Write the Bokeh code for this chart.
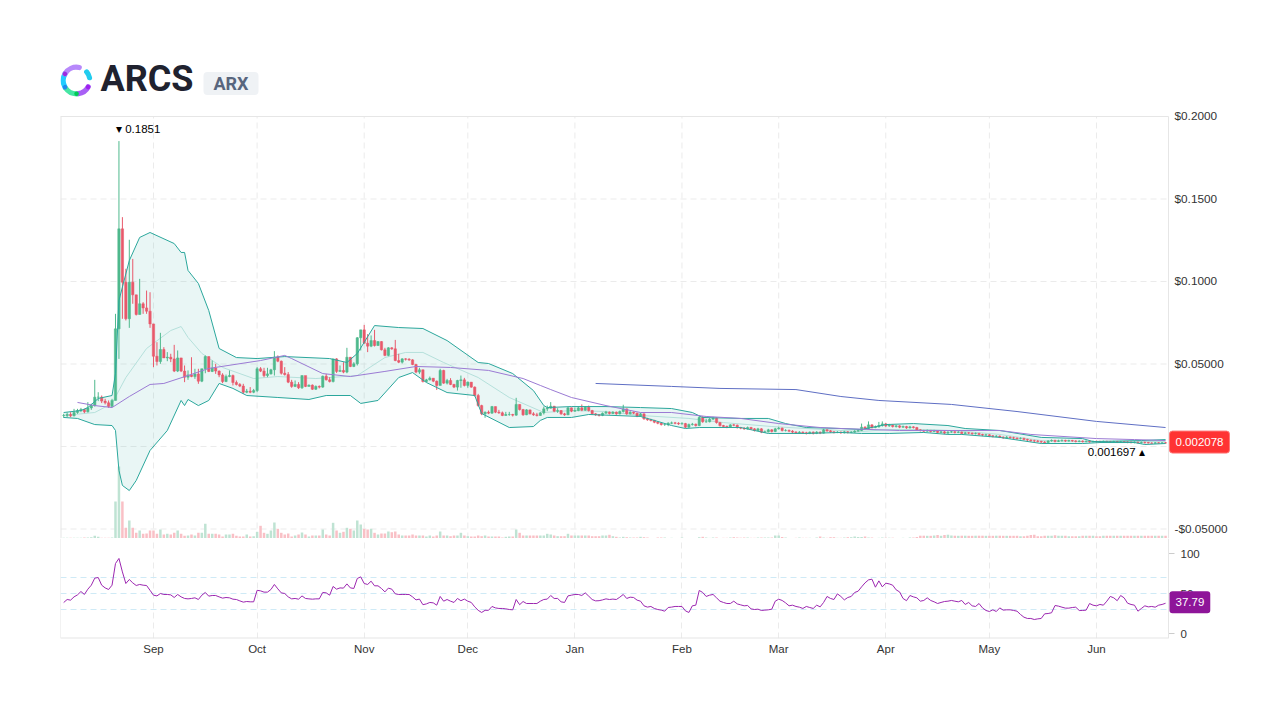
from bokeh.core.properties import value
from bokeh.embed import file_html
from bokeh.layouts import column
from bokeh.models import ColumnDataSource, FixedTicker, Label, Range1d, Span
from bokeh.plotting import figure
from bokeh.resources import INLINE

# ---------- data (price in USD, day 0 = first candle) ----------
month_days = [26, 56, 87, 117, 148, 179, 207, 238, 268, 299]
month_labels = ["Sep", "Oct", "Nov", "Dec", "Jan", "Feb", "Mar", "Apr", "May", "Jun"]

closes = [
 .0188,.0194,.0186,.0206,.0218,.0224,.0210,.0234,.0248,.0299,
 .0299,.0275,.0265,.0242,.0279,.0713,.1319,.0996,.0774,.0996,
 .0919,.0800,.0865,.0840,.0820,.0743,.0547,.0515,.0588,.0537,
 .0541,.0531,.0457,.0537,.0457,.0420,.0434,.0424,.0440,.0396,
 .0471,.0545,.0455,.0475,.0457,.0434,.0394,.0424,.0430,.0388,
 .0376,.0366,.0329,.0335,.0329,.0339,.0471,.0457,.0430,.0440,
 .0465,.0541,.0517,.0444,.0436,.0390,.0364,.0376,.0356,.0430,
 .0364,.0372,.0347,.0364,.0360,.0426,.0404,.0394,.0531,.0455,
 .0461,.0451,.0541,.0485,.0501,.0659,.0707,.0626,.0608,.0642,
 .0612,.0636,.0586,.0552,.0598,.0592,.0521,.0511,.0531,.0529,
 .0525,.0497,.0451,.0465,.0394,.0404,.0414,.0396,.0370,.0461,
 .0384,.0400,.0376,.0360,.0400,.0404,.0370,.0390,.0360,.0309,
 .0248,.0198,.0208,.0202,.0242,.0208,.0204,.0188,.0194,.0194,
 .0190,.0255,.0224,.0192,.0222,.0198,.0192,.0188,.0204,.0228,
 .0232,.0244,.0214,.0218,.0198,.0192,.0234,.0214,.0218,.0234,
 .0220,.0238,.0218,.0198,.0192,.0188,.0202,.0208,.0200,.0208,
 .0198,.0212,.0228,.0198,.0208,.0202,.0184,.0198,.0168,.0162,
 .0158,.0147,.0141,.0133,.0133,.0141,.0143,.0141,.0137,.0139,
 .0117,.0133,.0135,.0127,.0176,.0150,.0150,.0166,.0172,.0145,
 .0127,.0121,.0117,.0131,.0129,.0115,.0111,.0107,.0115,.0107,
 .0097,.0107,.0087,.0089,.0101,.0091,.0107,.0111,.0097,.0097,
 .0093,.0087,.0083,.0087,.0083,.0079,.0087,.0079,.0087,.0081,
 .0101,.0095,.0089,.0085,.0087,.0083,.0089,.0085,.0087,.0093,
 .0097,.0117,.0109,.0131,.0115,.0119,.0127,.0137,.0125,.0129,
 .0121,.0125,.0117,.0121,.0113,.0119,.0115,.0101,.0097,.0093,
 .0097,.0091,.0095,.0085,.0089,.0081,.0087,.0089,.0085,.0087,
 .0079,.0083,.0081,.0077,.0079,.0073,.0069,.0071,.0065,.0061,
 .0063,.0057,.0053,.0057,.0053,.0051,.0047,.0049,.0043,.0039,
 .0035,.0033,.0031,.0027,.0024,.0033,.0037,.0031,.0035,.0037,
 .0033,.0036,.0034,.0031,.0033,.0030,.0032,.0029,.0031,.0030,
 .0028,.0031,.0029,.0028,.0030,.0027,.0029,.0028,.0026,.0024,
 .0026,.0023,.0025,.0024,.0021,.0019,.0022,.0020,.0022,.002078]

highs = [
 .0198,.0206,.0208,.0228,.0228,.0234,.0228,.0269,.0259,.0404,
 .0329,.0309,.0289,.0279,.0289,.0804,.1851,.1390,.1077,.1253,
 .1137,.0919,.1016,.0875,.0945,.0935,.0743,.0632,.0689,.0602,
 .0572,.0562,.0616,.0582,.0537,.0491,.0461,.0541,.0471,.0471,
 .0471,.0552,.0545,.0521,.0501,.0461,.0444,.0436,.0461,.0436,
 .0400,.0384,.0380,.0349,.0360,.0349,.0481,.0481,.0477,.0477,
 .0471,.0578,.0552,.0521,.0481,.0451,.0404,.0400,.0390,.0430,
 .0412,.0376,.0376,.0370,.0370,.0430,.0440,.0420,.0531,.0535,
 .0491,.0511,.0598,.0541,.0511,.0663,.0707,.0737,.0681,.0673,
 .0707,.0638,.0638,.0598,.0602,.0602,.0646,.0562,.0535,.0535,
 .0535,.0529,.0501,.0477,.0465,.0410,.0424,.0414,.0400,.0471,
 .0465,.0410,.0414,.0380,.0404,.0430,.0416,.0394,.0390,.0364,
 .0319,.0253,.0212,.0218,.0246,.0242,.0222,.0212,.0210,.0210,
 .0198,.0295,.0255,.0228,.0226,.0222,.0208,.0204,.0208,.0242,
 .0248,.0269,.0246,.0232,.0220,.0204,.0240,.0236,.0236,.0240,
 .0255,.0244,.0248,.0222,.0202,.0196,.0206,.0216,.0212,.0214,
 .0212,.0218,.0253,.0230,.0214,.0212,.0206,.0204,.0200,.0174,
 .0168,.0162,.0152,.0145,.0139,.0147,.0151,.0149,.0147,.0147,
 .0143,.0139,.0143,.0139,.0188,.0184,.0168,.0172,.0180,.0176,
 .0149,.0131,.0127,.0135,.0137,.0133,.0119,.0117,.0121,.0119,
 .0111,.0113,.0111,.0097,.0107,.0105,.0113,.0119,.0115,.0105,
 .0103,.0099,.0093,.0093,.0091,.0089,.0091,.0091,.0093,.0091,
 .0107,.0105,.0099,.0093,.0093,.0091,.0095,.0093,.0093,.0099,
 .0105,.0139,.0123,.0152,.0135,.0127,.0149,.0152,.0143,.0137,
 .0133,.0131,.0129,.0127,.0125,.0125,.0123,.0119,.0105,.0101,
 .0103,.0101,.0101,.0099,.0095,.0093,.0093,.0095,.0093,.0093,
 .0091,.0089,.0087,.0085,.0085,.0083,.0077,.0077,.0075,.0069,
 .0069,.0067,.0061,.0063,.0061,.0059,.0055,.0055,.0053,.0047,
 .0043,.0041,.0039,.0035,.0033,.0039,.0043,.0041,.0041,.0043,
 .0041,.0041,.0040,.0038,.0038,.0037,.0037,.0036,.0036,.0036,
 .0035,.0036,.0035,.0034,.0035,.0034,.0034,.0033,.0032,.0031,
 .0031,.0030,.0030,.0030,.0028,.0026,.0027,.0026,.0027,.0027]

lows = [
 .0174,.0178,.0178,.0182,.0198,.0208,.0202,.0206,.0222,.0242,
 .0275,.0263,.0255,.0234,.0242,.0279,.0531,.0774,.0764,.0719,
 .0865,.0794,.0800,.0804,.0804,.0719,.0481,.0491,.0501,.0537,
 .0517,.0511,.0451,.0451,.0451,.0390,.0404,.0420,.0410,.0380,
 .0390,.0444,.0451,.0451,.0440,.0420,.0384,.0390,.0420,.0370,
 .0370,.0360,.0319,.0323,.0323,.0323,.0329,.0451,.0420,.0420,
 .0436,.0430,.0511,.0436,.0430,.0384,.0356,.0360,.0349,.0349,
 .0360,.0364,.0343,.0343,.0352,.0356,.0400,.0388,.0388,.0446,
 .0453,.0444,.0444,.0481,.0481,.0491,.0582,.0622,.0572,.0602,
 .0606,.0610,.0582,.0547,.0547,.0586,.0517,.0505,.0503,.0521,
 .0519,.0493,.0444,.0440,.0388,.0390,.0400,.0390,.0343,.0370,
 .0380,.0376,.0372,.0354,.0339,.0356,.0364,.0356,.0356,.0303,
 .0242,.0190,.0174,.0196,.0198,.0202,.0198,.0184,.0186,.0186,
 .0182,.0186,.0218,.0186,.0190,.0194,.0186,.0182,.0186,.0194,
 .0214,.0230,.0208,.0204,.0192,.0186,.0190,.0208,.0210,.0214,
 .0214,.0216,.0212,.0192,.0186,.0182,.0184,.0198,.0194,.0196,
 .0192,.0194,.0206,.0192,.0194,.0196,.0178,.0180,.0162,.0156,
 .0152,.0141,.0135,.0127,.0125,.0123,.0135,.0135,.0131,.0133,
 .0111,.0113,.0127,.0121,.0123,.0144,.0144,.0146,.0160,.0139,
 .0121,.0115,.0111,.0115,.0123,.0109,.0105,.0101,.0103,.0101,
 .0091,.0093,.0081,.0083,.0085,.0085,.0087,.0103,.0091,.0091,
 .0087,.0081,.0077,.0079,.0077,.0073,.0075,.0073,.0075,.0075,
 .0079,.0089,.0083,.0079,.0081,.0077,.0079,.0079,.0081,.0083,
 .0089,.0093,.0103,.0105,.0109,.0111,.0115,.0121,.0119,.0119,
 .0115,.0115,.0111,.0113,.0107,.0109,.0109,.0095,.0091,.0087,
 .0089,.0085,.0087,.0079,.0081,.0075,.0077,.0083,.0079,.0081,
 .0073,.0075,.0075,.0071,.0073,.0067,.0063,.0065,.0059,.0055,
 .0057,.0051,.0047,.0049,.0047,.0045,.0041,.0043,.0037,.0033,
 .0029,.0027,.0025,.0021,.0019,.0021,.0029,.0025,.0027,.0029,
 .0027,.0029,.0028,.0025,.0026,.0024,.0025,.0023,.0025,.0024,
 .0022,.0024,.0023,.0022,.0023,.0021,.0022,.0022,.0020,.0019,
 .0019,.0018,.0018,.001697,.0018,.0018,.0018,.0018,.0018,.0018]

# relative volume (arbitrary units)
volumes = [
 .7,.7,.8,.7,.7,.8,1,1,1.3,2.7,
 1.7,.8,.8,.8,1,37,72,37,10.7,18,
 10.7,5.7,8,4.7,5,8,8,4.7,9,4,
 4.7,4,5.7,8,4.7,2.7,3,4,3,5.7,
 5.7,14.7,4.7,4.7,4.7,4,2,4,4,4.7,
 2.7,2,2,4,2,2.3,6.7,12.7,5.7,4.7,
 8,16,9.7,5.7,4,5,2,3,4,6,
 4,2,3,3,3,9,4,3,15.7,8,
 5.7,6.7,10.7,9.7,8,18,14,9.7,9,9.7,
 5.7,4,5,5,7,6.3,7,4,3,3,
 3,4,3,3,3,2,3,2,3,7,
 3,3,2.3,3,3,5.7,3,2.3,2,2,
 3,2.3,3,2,2,2,2,1,1.7,2,
 2,9,5.7,3,3,3,3,3,3,3,
 4.7,4,3,2.3,2.3,2.3,4.7,3,3,3,
 3,3,3,2.3,2.3,2.3,3,3,3.7,2.3,
 1.7,1,1.7,1.3,1,1,1,1.7,1.3,1,
 .3,.3,1,1,1,.3,.7,.3,.3,1,
 .3,.2,.2,.2,1.3,1.7,1,.6,1,1,
 .4,.7,.7,1,1.3,1,.8,1,1,.7,
 .7,1,1,1,1,1,3,3,1.5,1,
 .5,.3,.7,1,.7,.7,.7,.5,1,2,
 1,.7,1.3,1.3,.7,.7,1,1.3,1.3,2,
 1.5,1.5,2,1,1,.5,.7,1,.8,.8,
 .8,.3,.3,.7,.3,1,1,1.5,2.8,2.8,
 2.7,2.7,3,3.5,2.7,3.5,3.8,3,2.8,2.7,
 2.8,2.8,2.7,2.7,2.8,2.8,2.8,2.7,2.7,2.7,
 2.8,2.8,2.7,2.7,2.7,2.7,2.7,2.3,2.3,2.8,
 3.5,3.8,2.3,2.3,2.7,2.8,2.8,3.2,2.8,2.7,
 2.7,2.3,2.3,2.3,2.3,2.7,2.8,2.7,2.7,2.3,
 2.3,2.7,2.7,2.7,2.7,2.7,2.7,2.7,2.7,2.7,
 2.8,2.7,2.7,2.8,2.7,2.7,2.7,2.7,2.8,2.8]

rsi = [
 38.7,42.5,41.7,45.8,48.3,52.5,48.8,55.4,60.4,69.2,
 70,60.4,57,55,60.4,87.5,93.8,77,62.5,67.5,
 63.3,60,61.3,60.4,60,54,47.9,47,50,48.8,
 48.8,48.3,45,48.8,45.8,43.8,43.3,43.8,44.6,42.5,
 47.9,51.3,46.7,47.5,47.5,45.8,44.2,45,44.6,42.9,
 42.5,40.8,39.2,40,39.6,39.6,54,53.3,51.7,51.7,
 55,61.3,55.8,50.8,50,45.8,43.3,43.8,42.9,47,
 43.8,43.3,42.9,43.3,43.3,51.3,50.8,47.9,58.8,55.4,
 57,56.7,62,57,56.3,68.8,70.8,62.5,61.3,65.4,
 59.6,59.6,56.3,52,56.7,55.4,49.6,48.8,48.8,48.8,
 48.8,45.8,42,43,36,37,38.8,38.3,35.4,46.3,
 40.4,42.5,40.4,38.8,43.8,41,43,40.4,38.8,33.3,
 29,26.3,29,29,33.8,32,31.3,31.3,30.8,30,
 29.6,42.5,36,40,37.5,37.5,37.5,37.5,40.4,42.5,
 43,47.5,43.8,43.8,39.6,38.8,47,47.9,48.8,48.8,
 47.5,50.8,46.7,42.5,40.8,41,42,43.3,42.5,43,
 42.5,45.4,48.8,43.8,45.4,45,41.7,40.4,34.6,33,
 33.8,31.3,30,29.2,27.9,32.5,33,33.8,33.8,33.8,
 28.3,26.3,34.6,35.4,53.8,51.3,46.3,47.9,48.8,44.6,
 40.4,38.8,37.5,37.5,40.4,37,35.8,34.6,35,30.8,
 30,30.4,28.8,29.2,29.6,30.4,40.4,42.9,41.3,38.3,
 34.6,35.4,33.8,32.9,31.3,33.8,32.5,31.3,35.4,33.3,
 38.8,46.3,43.8,42.5,49.6,46.3,42,45,46.3,51.3,
 52.9,58.3,63.3,67,67.9,57.9,65.8,58.3,62.9,62,
 60.4,54.6,52,43.8,41,47.5,45.8,44.6,40.4,41.3,
 44.6,41.3,39.6,37.5,38.8,40,40.4,41.3,40.4,39.6,
 41.3,36.3,38.8,34.6,33.8,37.5,32,28.8,27.5,29.6,
 27.5,32,29.2,29.6,29.6,28.8,27.9,23.8,20.4,18.8,
 18.8,17.5,18.3,18.8,24.6,25,25.9,35,34.2,32.9,
 31.7,31.7,32.5,32.9,28.8,28.8,29.2,37.5,35.4,34.6,
 36.3,35.4,40.4,46.3,44.6,41,47.5,44.6,37.9,36.3,
 35.4,27.9,31.3,34.6,33.3,33.8,32.9,35.4,36.3,37.79]

bb_upper_days = [0,5,7,10,14,15,16,19,22,25,32,34,35,36,39,42,45,50,56,64,77,82,85,90,97,104,111,120,123,130,136,139,140,147,157,167,176,182,185,196,204,209,215,225,231,238,246,256,261,271,283,295,298,312,319]
bb_upper = [.0206,.0218,.0236,.0291,.0309,.0442,.0885,.1127,.1267,.1297,.1230,.1176,.1176,.1067,.0988,.0824,.0594,.0539,.0533,.0545,.0533,.0509,.0564,.0733,.0721,.0715,.0642,.0509,.0503,.0442,.0339,.0248,.0236,.0242,.0242,.0236,.0230,.0206,.0176,.0170,.0170,.0139,.0115,.0109,.0103,.0133,.0139,.0127,.0109,.0097,.0055,.0048,.0030,.0036,.0042]
bb_lower_days = [0,4,9,14,15,16,17,19,21,25,30,34,35,36,39,42,45,49,53,62,71,76,83,86,91,97,101,105,111,119,121,129,136,138,140,147,152,167,171,176,180,184,196,200,204,215,225,231,239,249,256,260,271,283,295,300,310,313,319]
bb_lower = [.0176,.0170,.0133,.0127,.0097,-.0145,-.0236,-.0267,-.0206,-.0024,.0097,.0279,.0248,.0285,.0248,.0279,.0382,.0352,.0309,.0297,.0285,.0309,.0309,.0261,.0279,.0418,.0448,.0388,.0327,.0309,.0200,.0115,.0121,.0158,.0176,.0176,.0194,.0182,.0158,.0127,.0109,.0115,.0115,.0097,.0079,.0079,.0085,.0079,.0079,.0085,.0073,.0073,.0055,.0018,.0018,.0024,.0024,.0012,.0018]
bb_mid_days = [0,9,14,18,24,31,34,36,40,46,55,62,73,85,93,99,104,110,120,129,139,147,157,167,181,191,205,225,231,239,251,261,271,283,295,319]
bb_mid = [.0188,.0206,.0261,.0418,.0594,.0703,.0727,.0661,.0564,.0479,.0412,.0424,.0412,.0430,.0539,.0570,.0570,.0509,.0418,.0297,.0206,.0218,.0212,.0188,.0170,.0145,.0121,.0097,.0091,.0103,.0103,.0091,.0073,.0036,.0030,.0030]
ma_days = [4,9,14,19,25,29,36,42,57,64,66,75,83,93,102,112,123,133,138,141,147,157,167,176,186,196,207,219,225,242,271,280,299,310,319]
ma_values = [.0267,.0248,.0236,.0303,.0376,.0382,.0430,.0473,.0521,.0552,.0533,.0442,.0424,.0455,.0485,.0479,.0461,.0412,.0370,.0345,.0297,.0248,.0206,.0206,.0182,.0170,.0139,.0115,.0109,.0097,.0097,.0073,.0048,.0042,.0036]
ma_long_days = [154,176,190,212,225,236,257,276,299,319]
ma_long_values = [.0382,.0364,.0352,.0345,.0303,.0279,.0255,.0212,.0152,.0115]

price_ticks = [-.05, 0, .05, .1, .15, .2]
price_tick_labels = ["-$0.05000", "", "$0.05000", "$0.1000", "$0.1500", "$0.2000"]
rsi_ticks = [0, 50, 100]
rsi_levels = [30, 50, 70]

# ---------- styles ----------
GREEN, RED = "#4fb98d", "#e8596b"
VGREEN, VRED = "#bfe3d3", "#f9c0c6"
TEAL = "#2ba79c"
AXIS_FONT = "Liberation Sans"
GRID = "#ebebeb"
BORDER = "#e6e6e6"
WIDTH = 1280
X_START, X_PLOT_END, X_END = -0.92, 319.85, 338.38   # X_END reserves room for the value tags
Y_BOTTOM, Y_TOP, Y_END = -.05576, .2, .204848        # Y_END reserves room for the top tick label

days = list(range(len(closes)))
opens = [closes[0]] + closes[:-1]
up = [c >= o for o, c in zip(opens, closes)]
src = ColumnDataSource(dict(
    day=days, open=opens, close=closes, high=highs, low=lows, vol=volumes,
    color=[GREEN if u else RED for u in up],
    vcolor=[VGREEN if u else VRED for u in up]))

# ---------- header (logo and name) ----------
head = figure(width=WIDTH, height=108, x_range=Range1d(60, 1232), y_range=Range1d(0, 108),
              output_backend="svg", toolbar_location=None, x_axis_location=None, y_axis_location=None,
              min_border_left=60, min_border_right=48, min_border_top=0, min_border_bottom=0,
              outline_line_color=None)
head.grid.visible = False
logo_arcs = [(150, 210, "#22ccff"), (215, 272, "#46e6a4"), (278, 332, "#a860f5"),
             (12, 40, "#22ccee"), (78, 150, "#b788fb")]
for a0, a1, col in logo_arcs:
    head.arc(x=[76], y=[28], radius=[13.3], start_angle=[a0], end_angle=[a1],
             start_angle_units="deg", end_angle_units="deg", direction="anticlock",
             line_color=col, line_width=5.2, line_cap="round")
logo_dots = [(150, "#9a2be0"), (210, "#2288ee"), (270, "#00cc55"), (330, "#a020f0")]
for a, col in logo_dots:
    head.arc(x=[76], y=[28], radius=[13.3], start_angle=[a], end_angle=[a + .5],
             start_angle_units="deg", end_angle_units="deg", direction="anticlock",
             line_color=col, line_width=4.5, line_cap="round")
head.text(x=[100], y=[30], text=["ARCS"], text_font=value("Roboto"), text_font_style="bold",
          text_font_size="36px", text_color="#20222f", text_baseline="middle")
head.add_layout(Label(x=230.5, y=25, text="ARX", text_font="Roboto", text_font_style="bold",
                      text_font_size="18px", text_color="#58667e", text_align="center",
                      text_baseline="middle", background_fill_color="#eff2f5",
                      padding=(10, 1), border_radius=4))

# ---------- price + volume panel ----------
p = figure(width=WIDTH, height=430, x_range=Range1d(X_START, X_END), y_range=Range1d(Y_BOTTOM, Y_END),
           output_backend="svg", toolbar_location=None, y_axis_location="right",
           min_border_left=60, min_border_right=48, min_border_top=0, min_border_bottom=0,
           outline_line_color=None)
p.extra_y_ranges = {"vol": Range1d(0, 430)}
p.xaxis.visible = False
p.xgrid.visible = False
p.ygrid.visible = False
a = p.yaxis[0]
a.fixed_location = X_PLOT_END
a.ticker = FixedTicker(ticks=price_ticks)
a.major_label_overrides = dict(zip(price_ticks, price_tick_labels))
a.axis_line_color = None
a.major_tick_line_color = None
a.minor_tick_line_color = None
a.major_tick_out = 0
a.major_tick_in = 0
a.major_label_standoff = 6
a.major_label_text_font = AXIS_FONT
a.major_label_text_font_size = "11.8px"
a.major_label_text_color = "#333333"

for day in month_days:
    p.line([day, day], [Y_BOTTOM, Y_TOP], line_color=GRID, line_width=1, line_dash=[6, 4])
for tick in price_ticks:
    p.line([X_START, X_PLOT_END], [tick, tick], line_color=GRID, line_width=1, line_dash=[6, 4])
p.vbar(x="day", top="vol", bottom=0, width=.72, color="vcolor", line_color=None,
       source=src, y_range_name="vol")
p.patch(bb_upper_days + bb_lower_days[::-1], bb_upper + bb_lower[::-1],
        fill_color=TEAL, fill_alpha=.1, line_color=None)
p.line(bb_mid_days, bb_mid, line_color="#b5e0db", line_width=1)
p.segment(x0="day", x1="day", y0="low", y1="high", line_color="color", line_width=1, source=src)
p.vbar(x="day", top="open", bottom="close", width=.68, fill_color="color", line_color="color",
       line_width=.5, source=src)
p.line(bb_upper_days, bb_upper, line_color=TEAL, line_width=1)
p.line(bb_lower_days, bb_lower, line_color=TEAL, line_width=1)
p.line(ma_days, ma_values, line_color="#9b7bd4", line_width=1)
p.line(ma_long_days, ma_long_values, line_color="#5f6fc4", line_width=1)

hi_day = highs.index(max(highs))
lo_day = lows.index(min(lows))
p.add_layout(Label(x=hi_day, y=max(highs), text="\u25be " + f"{max(highs):.4f}", x_offset=-3, y_offset=12,
                   text_font=AXIS_FONT, text_font_size="11.5px", text_color="#000000",
                   text_baseline="middle"))
p.add_layout(Label(x=lo_day, y=min(lows), text=f"{min(lows):.6f}" + " \u25b4", y_offset=-8,
                   text_font=AXIS_FONT, text_font_size="11.5px", text_color="#000000",
                   text_align="right", text_baseline="middle"))
p.add_layout(Label(x=X_PLOT_END, y=closes[-1], text=f"{closes[-1]:.6f}", x_offset=1, y_offset=1,
                   text_font=AXIS_FONT, text_font_size="11.5px", text_color="#ffffff",
                   text_baseline="middle", background_fill_color="#ff3333",
                   border_line_color="#ff7777", padding=(6, 7), border_radius=3))
p.line([X_START, X_START], [Y_BOTTOM, Y_TOP], line_color=BORDER, line_width=2)
p.line([X_PLOT_END, X_PLOT_END], [Y_BOTTOM, Y_TOP], line_color=BORDER, line_width=1)
p.line([X_START, X_PLOT_END], [Y_TOP, Y_TOP], line_color=BORDER, line_width=1)

# ---------- RSI panel ----------
r = figure(width=WIDTH, height=174, x_range=p.x_range, y_range=Range1d(-6.25, 118.75),
           output_backend="svg", toolbar_location=None, y_axis_location="right",
           min_border_left=60, min_border_right=48, min_border_top=0, min_border_bottom=74,
           outline_line_color=None)
r.xgrid.ticker = FixedTicker(ticks=month_days)
r.xgrid[0].grid_line_color = GRID
r.xgrid[0].grid_line_dash = [6, 4]
r.ygrid.visible = False
ax = r.xaxis[0]
ax.ticker = FixedTicker(ticks=month_days)
ax.major_label_overrides = dict(zip(month_days, month_labels))
ax.axis_line_color = None
ax.major_tick_line_color = None
ax.minor_tick_line_color = None
ax.major_tick_out = 0
ax.major_tick_in = 0
ax.major_label_standoff = 4
ax.major_label_text_font = AXIS_FONT
ax.major_label_text_font_size = "11.5px"
ax.major_label_text_color = "#333333"
ay = r.yaxis[0]
ay.fixed_location = X_PLOT_END
ay.ticker = FixedTicker(ticks=rsi_ticks)
ay.axis_line_color = None
ay.major_tick_line_color = "#cccccc"
ay.major_tick_in = 0
ay.major_tick_out = 6
ay.minor_tick_line_color = None
ay.major_label_standoff = 6
ay.major_label_text_font = AXIS_FONT
ay.major_label_text_font_size = "11.5px"
ay.major_label_text_color = "#333333"
for level in rsi_levels:
    r.line([X_START, X_PLOT_END], [level, level], line_color="#cfeaf6", line_width=1, line_dash=[6, 4])
r.line(days, rsi, line_color="#9c27b0", line_width=1)
r.add_layout(Label(x=X_PLOT_END, y=rsi[-1], text=f"{rsi[-1]:.2f}", x_offset=1, y_offset=1,
                   text_font=AXIS_FONT, text_font_size="11.5px", text_color="#ffffff",
                   text_baseline="middle", background_fill_color="#8e1599",
                   padding=(6, 7), border_radius=3))
for loc in (X_START, X_PLOT_END):
    r.add_layout(Span(location=loc, dimension="height", line_color=BORDER, line_width=1))
r.line([X_START, X_PLOT_END], [-6.25, -6.25], line_color=BORDER, line_width=2)

page = column(head, p, r, spacing=0)
assert len(closes) == len(highs) == len(lows) == len(volumes) == len(rsi)
open("out.html", "w").write(file_html(page, INLINE))
